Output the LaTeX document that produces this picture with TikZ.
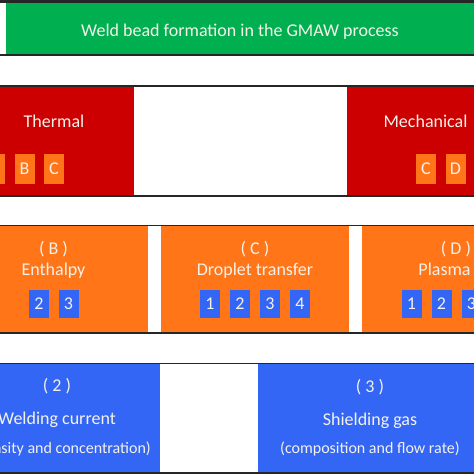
\documentclass[tikz,border=0pt]{standalone}
\usepackage{fontspec}
\setmainfont{Carlito}
\definecolor{gmawgreen}{HTML}{00B050}
\definecolor{gmawred}{HTML}{CC0000}
\definecolor{gmaworange}{HTML}{FF7518}
\definecolor{gmawblue}{HTML}{3366F5}
\definecolor{txtc}{HTML}{F4F1EA}
\definecolor{rulec}{HTML}{262626}
\tikzset{
  band/.style={draw=none, inner sep=0pt, outer sep=0pt},
  lbl/.style={text=txtc, font=\fontsize{18}{20}\selectfont, inner sep=0pt, anchor=base},
  sublbl/.style={lbl, font=\fontsize{16}{18}\selectfont},
  chip/.style={draw=none, inner sep=0pt, outer sep=0pt, minimum width=20pt, text=txtc, font=\fontsize{18}{20}\selectfont},
  redchip/.style={chip, fill=gmaworange, minimum height=30pt},
  bluechip/.style={chip, fill=gmawblue, minimum height=28pt},
  rowrule/.style={draw=rulec}
}
\begin{document}
\begin{tikzpicture}[x=1pt,y=-1pt]
\useasboundingbox (0,0) rectangle (474,474);
\clip (0,0) rectangle (474,474);
% row 1
\node[band, fill=gmawgreen, minimum width=468pt, minimum height=50.5pt] (title) at (240,28.25) {};
\node[lbl] (titletxt) at (240,36) {Weld bead formation in the GMAW process};
% row 2
\node[band, fill=gmawred, minimum width=163.5pt, minimum height=108.5pt] (thermal) at (51.75,140.75) {};
\node[band, fill=gmawred, minimum width=173pt, minimum height=108.5pt] (mech) at (433.5,140.75) {};
\node[lbl] (thermaltxt) at (54,127.5) {Thermal};
\node[lbl] (mechtxt) at (425.5,127.5) {Mechanical};
\node[redchip] (tA) at (-5,169) {A};
\node[redchip] (tB) at (24.5,169) {B};
\node[redchip] (tC) at (54,169) {C};
\node[redchip] (mC) at (426,169) {C};
\node[redchip] (mD) at (455.5,169) {D};
% row 3
\node[band, fill=gmaworange, minimum width=189pt, minimum height=106.5pt] (enth) at (53.5,279.25) {};
\node[band, fill=gmaworange, minimum width=188pt, minimum height=106.5pt] (drop) at (255,279.25) {};
\node[band, fill=gmaworange, minimum width=188pt, minimum height=106.5pt] (plasma) at (456,279.25) {};
\node[lbl] (enthid) at (53.5,254) {( B )};
\node[lbl] (enthtxt) at (53.5,275) {Enthalpy};
\node[lbl] (dropid) at (255,254) {( C )};
\node[lbl] (droptxt) at (255,275) {Droplet transfer};
\node[lbl] (plasmaid) at (456,254) {( D )};
\node[lbl] (plasmatxt) at (444.5,275) {Plasma};
\node[bluechip] (eB2) at (39,304) {2};
\node[bluechip] (eB3) at (68.5,304) {3};
\node[bluechip] (dC1) at (210,304) {1};
\node[bluechip] (dC2) at (240,304) {2};
\node[bluechip] (dC3) at (270,304) {3};
\node[bluechip] (dC4) at (300,304) {4};
\node[bluechip] (pD1) at (411.5,304) {1};
\node[bluechip] (pD2) at (441.5,304) {2};
\node[bluechip] (pD3) at (471.5,304) {3};
% row 4
\node[band, fill=gmawblue, minimum width=206pt, minimum height=108pt] (current) at (57,418) {};
\node[band, fill=gmawblue, minimum width=224pt, minimum height=108pt] (gas) at (370,418) {};
\node[lbl] (curid) at (57,391.5) {( 2 )};
\node[lbl] (curtxt) at (57,424) {Welding current};
\node[sublbl] (cursub) at (57,453) {(intensity and concentration)};
\node[lbl] (gasid) at (370,392) {( 3 )};
\node[lbl] (gastxt) at (370,425) {Shielding gas};
\node[sublbl] (gassub) at (370,453) {(composition and flow rate)};
% row rules
\draw[rowrule, line width=2.6pt] (0,1.3) -- (474,1.3);
\draw[rowrule, line width=2.2pt] (0,54.6) -- (474,54.6);
\draw[rowrule, line width=1.6pt] (0,86) -- (474,86);
\draw[rowrule, line width=2pt] (0,195.5) -- (474,195.5);
\draw[rowrule, line width=1.5pt] (0,225.6) -- (474,225.6);
\draw[rowrule, line width=2pt] (0,333) -- (474,333);
\draw[rowrule, line width=1.5pt] (0,363.3) -- (474,363.3);
\draw[rowrule, line width=2pt] (0,473) -- (474,473);
\end{tikzpicture}
\end{document}
